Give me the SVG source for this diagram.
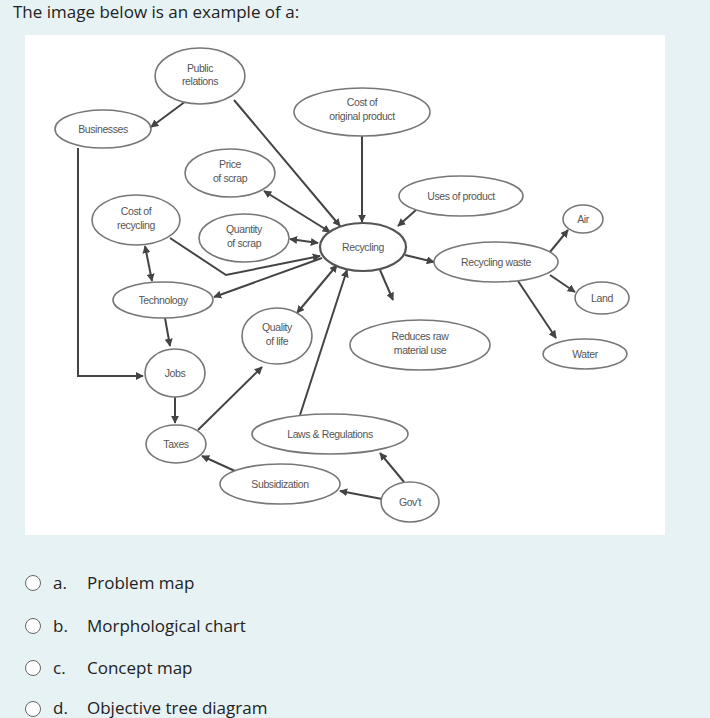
<svg xmlns="http://www.w3.org/2000/svg" width="710" height="718" viewBox="0 0 710 718">
<style>
.n ellipse{fill:#fff;stroke:#777;stroke-width:1.6}
.n text{font-family:"Liberation Sans",Arial,sans-serif;font-size:10.5px;fill:#555;text-anchor:middle;letter-spacing:-0.4px}
.c line,.c polyline{stroke:#444;stroke-width:2;fill:none;marker-end:url(#a)}
.c .d{marker-start:url(#b)}
.q{font-family:"Open Sans","Liberation Sans",sans-serif;font-size:17px;fill:#222}
.r{fill:#fff;stroke:#666;stroke-width:1}
</style>
<defs>
<marker id="a" viewBox="0 0 10 10" refX="9" refY="5" markerWidth="4" markerHeight="4" orient="auto"><path d="M0,0L10,5L0,10z" fill="#444"/></marker>
<marker id="b" viewBox="0 0 10 10" refX="1" refY="5" markerWidth="4" markerHeight="4" orient="auto"><path d="M10,0L0,5L10,10z" fill="#444"/></marker>
</defs>
<rect width="710" height="718" fill="#e7f2f5"/>
<text x="13" y="18" class="q" font-size="16">The image below is an example of a:</text>
<rect x="25" y="35" width="640" height="500" fill="#fff"/>
<g class="c">
<line x1="186" y1="101" x2="151" y2="127"/>
<line x1="234" y1="100" x2="340" y2="226"/>
<line x1="362" y1="136" x2="362" y2="222"/>
<line class="d" x1="264" y1="191" x2="330" y2="232"/>
<line class="d" x1="290" y1="239" x2="318" y2="243"/>
<polyline points="170,238 226,275 320,256"/>
<line class="d" x1="145" y1="246" x2="152" y2="281"/>
<line x1="322" y1="258" x2="214" y2="297"/>
<line class="d" x1="297" y1="313" x2="337" y2="265"/>
<line x1="300" y1="415" x2="347" y2="270"/>
<line x1="416" y1="210" x2="398" y2="226"/>
<line x1="405" y1="255" x2="434" y2="262"/>
<line x1="380" y1="270" x2="393" y2="300"/>
<line x1="550" y1="252" x2="568" y2="230"/>
<line x1="550" y1="275" x2="575" y2="292"/>
<line x1="518" y1="281" x2="556" y2="338"/>
<polyline points="78,148 78,376 143,376"/>
<line x1="165" y1="318" x2="170" y2="346"/>
<line x1="175" y1="397" x2="175" y2="423"/>
<line x1="198" y1="430" x2="262" y2="367"/>
<line x1="235" y1="471" x2="202" y2="456"/>
<line x1="382" y1="499" x2="340" y2="491"/>
<line x1="404" y1="482" x2="380" y2="453"/>
</g>
<g class="n" id="public-relations"><ellipse cx="200" cy="76" rx="45" ry="28"/><text x="200" y="72">Public</text><text x="200" y="85">relations</text></g>
<g class="n" id="businesses"><ellipse cx="103" cy="129" rx="48" ry="19"/><text x="103" y="133">Businesses</text></g>
<g class="n" id="cost-original"><ellipse cx="362" cy="112" rx="68" ry="24"/><text x="362" y="106">Cost of</text><text x="362" y="120">original product</text></g>
<g class="n" id="price-scrap"><ellipse cx="230" cy="173" rx="45" ry="24"/><text x="230" y="168">Price</text><text x="230" y="182">of scrap</text></g>
<g class="n" id="cost-recycling"><ellipse cx="136" cy="220" rx="44" ry="25"/><text x="136" y="215">Cost of</text><text x="136" y="229">recycling</text></g>
<g class="n" id="quantity-scrap"><ellipse cx="244" cy="238" rx="45" ry="24"/><text x="244" y="233">Quantity</text><text x="244" y="247">of scrap</text></g>
<g class="n" id="recycling"><ellipse cx="363" cy="247" rx="43" ry="24" style="stroke:#555;stroke-width:2.2"/><text x="363" y="251">Recycling</text></g>
<g class="n" id="uses-product"><ellipse cx="461" cy="196" rx="62" ry="20"/><text x="461" y="200">Uses of product</text></g>
<g class="n" id="air"><ellipse cx="583" cy="219" rx="20" ry="14"/><text x="583" y="223">Air</text></g>
<g class="n" id="recycling-waste"><ellipse cx="496" cy="262" rx="62" ry="20"/><text x="496" y="266">Recycling waste</text></g>
<g class="n" id="land"><ellipse cx="602" cy="298" rx="27" ry="16"/><text x="602" y="302">Land</text></g>
<g class="n" id="water"><ellipse cx="585" cy="354" rx="42" ry="15"/><text x="585" y="358">Water</text></g>
<g class="n" id="reduces"><ellipse cx="420" cy="345" rx="70" ry="25"/><text x="420" y="340">Reduces raw</text><text x="420" y="354">material use</text></g>
<g class="n" id="technology"><ellipse cx="163" cy="300" rx="50" ry="18"/><text x="163" y="304">Technology</text></g>
<g class="n" id="quality"><ellipse cx="277" cy="336" rx="35" ry="28"/><text x="277" y="331">Quality</text><text x="277" y="345">of life</text></g>
<g class="n" id="jobs"><ellipse cx="175" cy="373" rx="30" ry="24"/><text x="175" y="377">Jobs</text></g>
<g class="n" id="taxes"><ellipse cx="176" cy="444" rx="30" ry="19"/><text x="176" y="448">Taxes</text></g>
<g class="n" id="laws"><ellipse cx="330" cy="434" rx="78" ry="20"/><text x="330" y="438">Laws &amp; Regulations</text></g>
<g class="n" id="subsidization"><ellipse cx="280" cy="484" rx="60" ry="20"/><text x="280" y="488">Subsidization</text></g>
<g class="n" id="govt"><ellipse cx="410" cy="502" rx="29" ry="20"/><text x="410" y="506">Gov't</text></g>
<circle class="r" cx="33" cy="583" r="7.5"/><text x="53" y="589" class="q">a.</text><text x="87" y="589" class="q">Problem map</text>
<circle class="r" cx="33" cy="626" r="7.5"/><text x="53" y="632" class="q">b.</text><text x="87" y="632" class="q">Morphological chart</text>
<circle class="r" cx="33" cy="668" r="7.5"/><text x="53" y="674" class="q">c.</text><text x="87" y="674" class="q">Concept map</text>
<circle class="r" cx="33" cy="709" r="7.5"/><text x="53" y="714" class="q">d.</text><text x="87" y="714" class="q">Objective tree diagram</text>
</svg>
